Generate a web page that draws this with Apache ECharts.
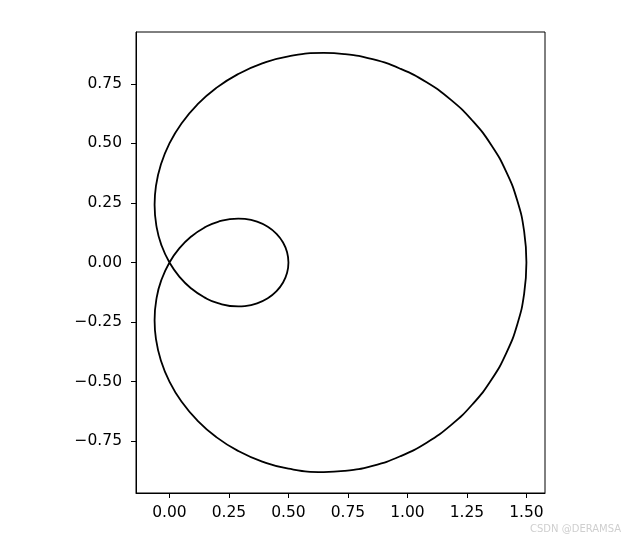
<!DOCTYPE html>
<html><head><meta charset="utf-8">
<script src="https://cdn.jsdelivr.net/npm/echarts@6/dist/echarts.min.js"></script>
<style>html,body{margin:0;padding:0;background:#fff}#c{width:631px;height:541px}</style>
</head><body><div id="c"></div>
<script>
// Curve points (limaçon-shaped closed curve), traced in order
var xs = [1.5,1.4905,1.4622,1.4159,1.3529,1.2745,1.1830,1.0807,0.9698,0.8536,0.7346,0.6483,0.5,0.3899,0.2880,0.1964,0.1170,0.0512,0,-0.0360,-0.0567,-0.0625,-0.0540,-0.0327,0,0.0422,0.0918,0.1464,0.2038,0.2893,0.3170,0.3682,0.4132,0.4500,0.4774,0.4943,0.5,
0.4943,0.4774,0.4500,0.4132,0.3682,0.3170,0.2893,0.2038,0.1464,0.0918,0.0422,0,-0.0327,-0.0540,-0.0625,-0.0567,-0.0360,0,0.0512,0.1170,0.1964,0.2880,0.3899,0.5,0.6483,0.7346,0.8536,0.9698,1.0807,1.1830,1.2745,1.3529,1.4159,1.4622,1.4905,1.5];
var ys = [0,0.1304,0.2578,0.3794,0.4924,0.5943,0.6830,0.7567,0.8138,0.8536,0.8754,0.8801,0.8660,0.8362,0.7912,0.7329,0.6634,0.5850,0.5,0.4112,0.3214,0.2421,0.1485,0.0701,0,-0.0603,-0.1094,-0.1464,-0.1710,-0.1845,-0.1830,-0.1717,-0.1504,-0.1206,-0.0842,-0.0433,0,
0.0433,0.0842,0.1206,0.1504,0.1717,0.1830,0.1845,0.1710,0.1464,0.1094,0.0603,0,-0.0701,-0.1485,-0.2421,-0.3214,-0.4112,-0.5,-0.5850,-0.6634,-0.7329,-0.7912,-0.8362,-0.8660,-0.8801,-0.8754,-0.8536,-0.8138,-0.7567,-0.6830,-0.5943,-0.4924,-0.3794,-0.2578,-0.1304,0];
var xTicks = [0,0.25,0.5,0.75,1.0,1.25,1.5];
var yTicks = [-0.75,-0.5,-0.25,0,0.25,0.5,0.75];

var pts = xs.map(function(x,i){return [x, ys[i]];});
var font = 'DejaVu Sans';
function fmt(v){ var s = Math.abs(v).toFixed(2); return (v < -1e-9 ? '\u2212' : '') + s; }
var chart = echarts.init(document.getElementById('c'), null, {renderer:'canvas'});
chart.setOption({
  animation:false,
  backgroundColor:'#fff',
  grid:{left:136, top:32, width:409, height:461, show:true, borderColor:'#000', borderWidth:1, containLabel:false},
  xAxis:{type:'value', min:-0.1406, max:1.5781,
    axisLine:{show:true, onZero:false, lineStyle:{color:'#000', width:1}},
    axisTick:{show:true, length:5, lineStyle:{color:'#000'}, customValues:xTicks},
    axisLabel:{color:'#000', fontFamily:font, fontSize:15.5, margin:12, customValues:xTicks, formatter:fmt},
    splitLine:{show:false}},
  yAxis:{type:'value', min:-0.968, max:0.968,
    axisLine:{show:true, onZero:false, lineStyle:{color:'#000', width:1}},
    axisTick:{show:true, length:5, lineStyle:{color:'#000'}, customValues:yTicks},
    axisLabel:{color:'#000', fontFamily:font, fontSize:15.5, margin:14, customValues:yTicks, formatter:fmt},
    splitLine:{show:false}},
  series:[{type:'line', data:pts, showSymbol:false, smooth:0.5, clip:false,
    lineStyle:{color:'#000', width:1.8, join:'round'}}],
  graphic:[{type:'text', left:530, top:524, style:{text:'CSDN @DERAMSA', fill:'#cfcfcf', font:'10px "DejaVu Sans"'}}]
});
</script></body></html>
